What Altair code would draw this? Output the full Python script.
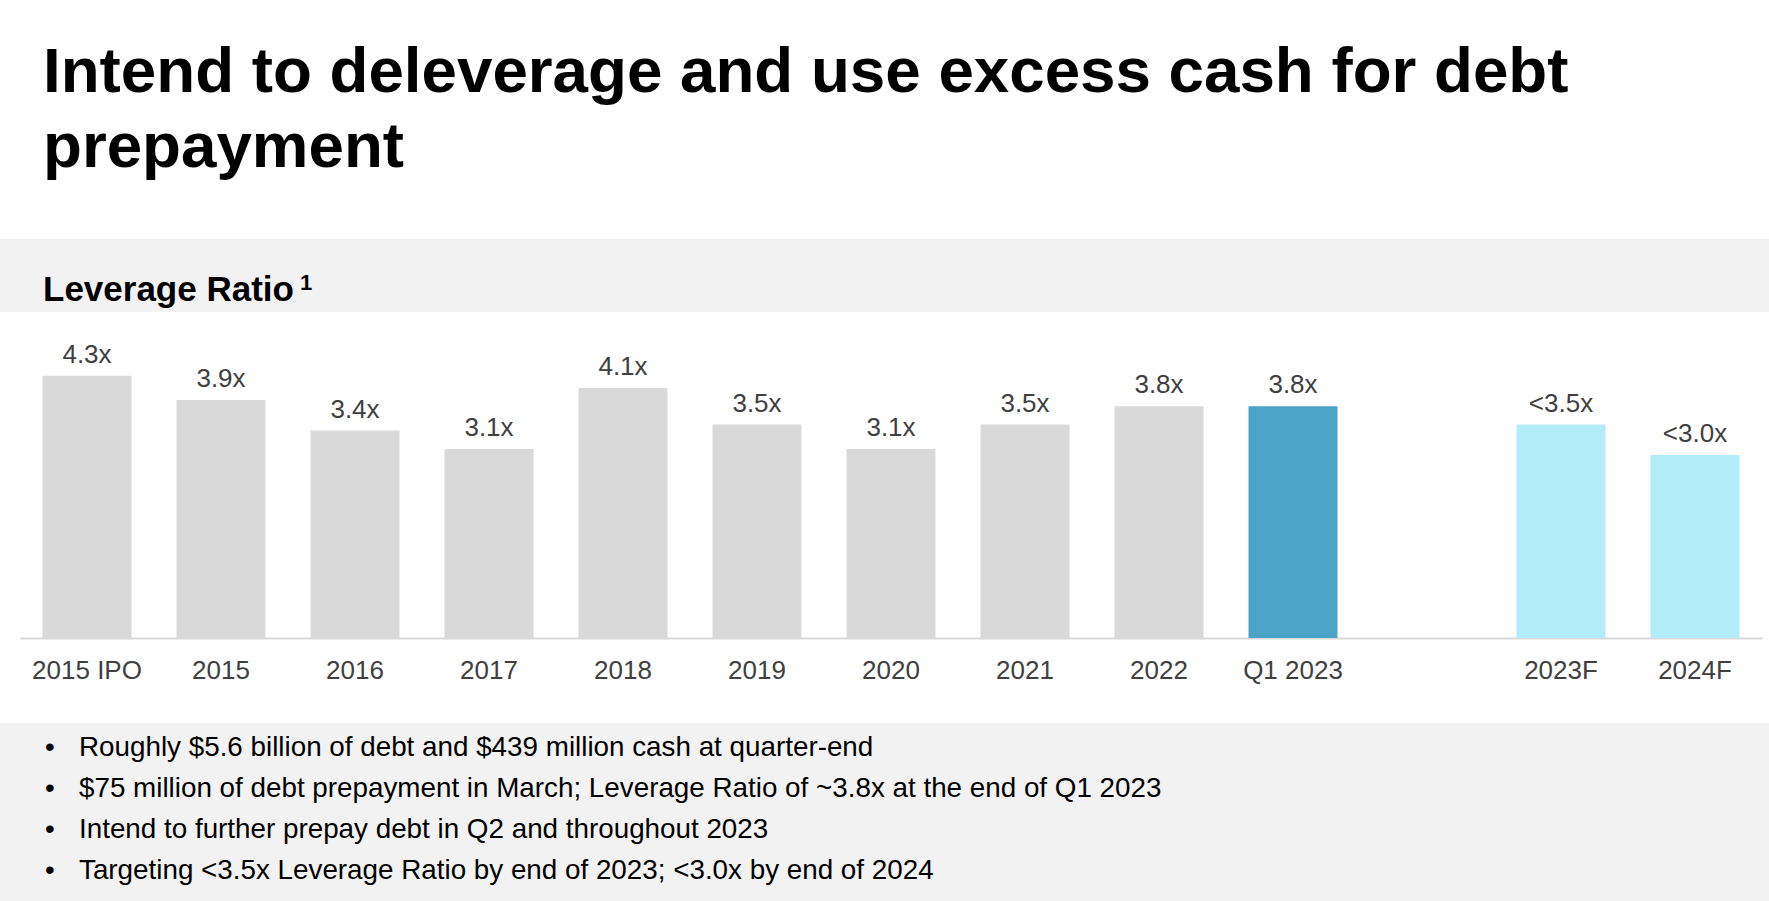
import altair as alt
import pandas as pd

# ---------------- data ----------------
categories = ["2015 IPO", "2015", "2016", "2017", "2018", "2019", "2020",
              "2021", "2022", "Q1 2023", "2023F", "2024F"]
values = [4.3, 3.9, 3.4, 3.1, 4.1, 3.5, 3.1, 3.5, 3.8, 3.8, 3.5, 3.0]
value_labels = ["4.3x", "3.9x", "3.4x", "3.1x", "4.1x", "3.5x", "3.1x",
                "3.5x", "3.8x", "3.8x", "<3.5x", "<3.0x"]
kinds = ["Historical"] * 9 + ["Current", "Forecast", "Forecast"]
# empty slot between actuals and forecasts
axis_order = categories[:10] + [" "] + categories[10:]

title_lines = ["Intend to deleverage and use excess cash for debt", "prepayment"]
section_title = "Leverage Ratio"
section_footnote = "1"
bullets = [
    "Roughly $5.6 billion of debt and $439 million cash at quarter-end",
    "$75 million of debt prepayment in March; Leverage Ratio of ~3.8x at the end of Q1 2023",
    "Intend to further prepay debt in Q2 and throughout 2023",
    "Targeting <3.5x Leverage Ratio by end of 2023; <3.0x by end of 2024",
]

kind_domain = ["Historical", "Current", "Forecast"]
kind_colors = ["#D9D9D9", "#4BA3C7", "#B3EDF9"]

df = pd.DataFrame({"cat": categories, "value": values,
                   "label": value_labels, "kind": kinds})
one = pd.DataFrame({"_": [0]})

FONT = "Liberation Sans"
W, H = 1742, 326
Y_MAX = H / 61.0

x_enc = alt.X(
    "cat:N",
    sort=axis_order,
    scale=alt.Scale(domain=axis_order, paddingInner=0.336, paddingOuter=0.168),
    title=None,
    axis=alt.Axis(
        labelFont=FONT, labelFontSize=26, labelColor="#404040",
        labelBaseline="alphabetic", labelPadding=40, labelAngle=0,
        labelOverlap=False, ticks=False, grid=False,
        domainColor="#D9D9D9", domainWidth=2,
    ),
)
y_enc = alt.Y("value:Q", scale=alt.Scale(domain=[0, Y_MAX], nice=False, zero=True),
              axis=None)

band_top = alt.Chart(one).mark_rect(color="#F2F2F2").encode(
    x=alt.value(-20), x2=alt.value(1749), y=alt.value(-73), y2=alt.value(0))
band_bottom = alt.Chart(one).mark_rect(color="#F2F2F2").encode(
    x=alt.value(-20), x2=alt.value(1749), y=alt.value(411), y2=alt.value(589))

bars = alt.Chart(df).mark_bar().encode(
    x=x_enc,
    y=y_enc,
    color=alt.Color("kind:N", scale=alt.Scale(domain=kind_domain, range=kind_colors),
                    legend=None),
)

bar_text = alt.Chart(df).mark_text(
    font=FONT, fontSize=26, color="#404040", baseline="alphabetic", dy=-13
).encode(x=x_enc, y=y_enc, text="label:N")

title = alt.Chart(one).mark_text(
    text=title_lines, font=FONT, fontSize=63.7, fontWeight="bold", color="#000000",
    align="left", baseline="alphabetic", lineHeight=75,
).encode(x=alt.value(23), y=alt.value(-220))

section = alt.Chart(one).mark_text(
    text=section_title, font=FONT, fontSize=35, fontWeight="bold", color="#000000",
    align="left", baseline="alphabetic",
).encode(x=alt.value(23), y=alt.value(-11))

footnote = alt.Chart(one).mark_text(
    text=section_footnote, font=FONT, fontSize=22, fontWeight="bold", color="#000000",
    align="left", baseline="alphabetic",
).encode(x=alt.value(280), y=alt.value(-22))

bullet_dots = alt.Chart(one).mark_text(
    text=["\u2022"] * len(bullets), font=FONT, fontSize=27.8, color="#000000",
    align="left", baseline="alphabetic", lineHeight=41,
).encode(x=alt.value(25), y=alt.value(444))

bullet_text = alt.Chart(one).mark_text(
    text=bullets, font=FONT, fontSize=27.8, color="#000000",
    align="left", baseline="alphabetic", lineHeight=41,
).encode(x=alt.value(59), y=alt.value(444))

chart = alt.layer(
    band_top, band_bottom, bars, bar_text, title, section, footnote,
    bullet_dots, bullet_text
).properties(
    width=W, height=H,
    padding={"left": 20, "top": 312, "right": 7, "bottom": 263},
    autosize=alt.AutoSizeParams(type="none"),
    background="white",
).configure_view(stroke=None)

chart.save("out.html", embed_options={"renderer": "svg", "actions": False})
